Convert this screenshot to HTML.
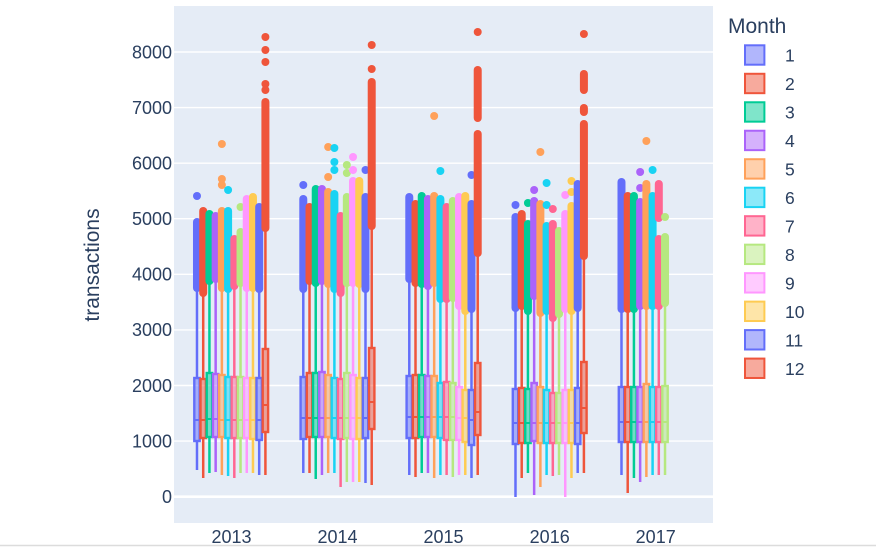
<!DOCTYPE html>
<html>
<head>
<meta charset="utf-8">
<style>
html,body{margin:0;padding:0;background:#fff;width:876px;height:550px;overflow:hidden;}
svg{display:block;}
text{font-family:"Liberation Sans",sans-serif;fill:#2a3f5f;}
</style>
</head>
<body>
<svg id="s" width="876" height="550" viewBox="0 0 876 550" xmlns="http://www.w3.org/2000/svg">
  <rect x="0" y="0" width="876" height="550" fill="#fff"/>
  <rect x="174" y="6" width="539" height="517" fill="#e5ecf6"/>
  <g stroke="#fff" stroke-width="1.4">
    <line x1="174" x2="713" y1="441.1" y2="441.1"/>
    <line x1="174" x2="713" y1="385.5" y2="385.5"/>
    <line x1="174" x2="713" y1="329.9" y2="329.9"/>
    <line x1="174" x2="713" y1="274.3" y2="274.3"/>
    <line x1="174" x2="713" y1="218.7" y2="218.7"/>
    <line x1="174" x2="713" y1="163.2" y2="163.2"/>
    <line x1="174" x2="713" y1="107.6" y2="107.6"/>
    <line x1="174" x2="713" y1="52" y2="52"/>
  </g>
  <line x1="174" x2="713" y1="496.7" y2="496.7" stroke="#fff" stroke-width="2.6"/>
  <g id="plot"></g>
  <g font-size="18" text-anchor="end">
    <text x="172" y="503">0</text>
    <text x="172" y="447.4">1000</text>
    <text x="172" y="391.8">2000</text>
    <text x="172" y="336.2">3000</text>
    <text x="172" y="280.6">4000</text>
    <text x="172" y="225">5000</text>
    <text x="172" y="169.5">6000</text>
    <text x="172" y="113.9">7000</text>
    <text x="172" y="58.3">8000</text>
  </g>
  <g font-size="18" text-anchor="middle">
    <text x="231.5" y="543">2013</text>
    <text x="337.5" y="543">2014</text>
    <text x="443.5" y="543">2015</text>
    <text x="549.7" y="543">2016</text>
    <text x="655.7" y="543">2017</text>
  </g>
  <text x="0" y="0" font-size="21" text-anchor="middle" transform="translate(99,265) rotate(-90)">transactions</text>
  <text x="728" y="33" font-size="21">Month</text>
  <g id="leg"></g>
  <line x1="0" x2="876" y1="545.5" y2="545.5" stroke="#dcdcdc" stroke-width="1.5"/>
</svg>
<script>
(function(){
var C=['#636efa','#EF553B','#00cc96','#ab63fa','#FFA15A','#19d3f3','#FF6692','#B6E880','#FF97FF','#FECB52','#636efa','#EF553B'];
var G=[231.2,337.5,443.5,549.7,655.7];
var SP=6.22;
var D=[
[
[378,441,420,470,292,218,[196]],
[379,438,420,478,297,207,[]],
[373,437,419,473,285,210,[]],
[374,437,419,472,283,212,[]],
[375,437,420,475,292,207,[144,179,185]],
[377,438,420,476,293,207,[190]],
[377,438,420,478,290,235,[]],
[377,438,420,473,287,228,[207]],
[378,438,420,473,292,195,[]],
[378,439,420,473,292,193,[]],
[378,440,420,475,293,203,[]],
[349,432,405,475,232,98,[37,50,62,84,90]]
],
[
[377,439,418,473,293,195,[185]],
[373,437,418,473,285,203,[]],
[373,437,418,479,287,185,[]],
[372,437,418,475,285,185,[]],
[375,437,418,473,288,188,[147,177]],
[378,438,418,473,293,190,[148,162,170]],
[379,439,418,487,297,212,[]],
[373,438,418,482,287,193,[165,173]],
[375,439,418,482,287,177,[157,170]],
[378,439,418,482,288,177,[]],
[378,438,418,483,293,193,[170]],
[348,429,402,485,230,78,[45,69]]
],
[
[376,438,417,475,283,193,[]],
[375,438,417,477,287,200,[]],
[375,437,417,473,288,192,[]],
[376,437,417,473,290,195,[]],
[376,437,417,478,287,192,[116]],
[383,438,417,475,303,195,[171]],
[382,440,417,475,303,203,[]],
[383,440,417,477,302,197,[]],
[387,440,418,475,310,193,[]],
[390,442,418,475,315,192,[]],
[390,445,420,478,313,200,[175]],
[363,435,412,475,257,130,[32],[[66,122]]]
],
[
[389,444,423,497,312,213,[205]],
[388,443,423,478,310,210,[]],
[389,443,423,473,315,220,[203]],
[383,441,423,495,300,197,[190]],
[387,443,423,487,317,200,[152]],
[390,443,423,475,315,222,[183,205]],
[393,443,423,476,322,220,[209]],
[393,443,423,475,318,227,[]],
[390,443,423,497,313,210,[195]],
[390,443,423,478,315,202,[181,192]],
[388,444,423,473,312,180,[]],
[362,433,408,473,260,120,[34],[[70,94],[104,116]]]
],
[
[387,442,422,475,313,178,[]],
[387,442,422,493,313,192,[]],
[387,442,422,478,313,192,[]],
[387,442,422,482,310,198,[172,188]],
[384,442,422,477,310,180,[141]],
[387,442,422,475,310,192,[170]],
[387,442,422,475,310,235,[],[[180,222]]],
[386,442,422,475,307,233,[217]]
]
];
var out='';
for(var m=0;m<12;m++){
  var c=C[m];
  for(var y=0;y<5;y++){
    var d=D[y][m]; if(!d) continue;
    var cx=G[y]+(m-5.5)*SP;
    var hw=2.7;
    var x0=(cx-hw).toFixed(2), w=2*hw;
    var X=cx.toFixed(2);
    out+='<line x1="'+X+'" x2="'+X+'" y1="'+d[0]+'" y2="'+(d[4]-3)+'" stroke="'+c+'" stroke-width="2.5"/>';
    out+='<line x1="'+X+'" x2="'+X+'" y1="'+d[1]+'" y2="'+d[3]+'" stroke="'+c+'" stroke-width="2.5"/>';
    out+='<rect x="'+x0+'" y="'+d[0]+'" width="'+w+'" height="'+(d[1]-d[0])+'" fill="'+c+'" fill-opacity="0.5" stroke="'+c+'" stroke-width="2.4"/>';
    out+='<line x1="'+x0+'" x2="'+(cx+hw).toFixed(2)+'" y1="'+d[2]+'" y2="'+d[2]+'" stroke="'+c+'" stroke-width="2"/>';
    out+='<line x1="'+X+'" x2="'+X+'" y1="'+(d[4]-4)+'" y2="'+(d[5]+4)+'" stroke="'+c+'" stroke-width="8" stroke-linecap="round"/>';
    var segs=d[7]||[];
    for(var k=0;k<segs.length;k++){
      out+='<line x1="'+X+'" x2="'+X+'" y1="'+(segs[k][1]-4)+'" y2="'+(segs[k][0]+4)+'" stroke="'+c+'" stroke-width="8" stroke-linecap="round"/>';
    }
    var sp=d[6];
    for(var k=0;k<sp.length;k++){
      out+='<circle cx="'+X+'" cy="'+sp[k]+'" r="4" fill="'+c+'"/>';
    }
  }
}
document.getElementById('plot').insertAdjacentHTML('beforeend',out);
var lg='';
for(var i=0;i<12;i++){
  var cy=55+28.48*i;
  lg+='<rect x="745" y="'+(cy-9.7).toFixed(2)+'" width="19.4" height="19.4" fill="'+C[i]+'" fill-opacity="0.5" stroke="'+C[i]+'" stroke-width="2"/>';
  lg+='<text x="785" y="'+(cy+6.5).toFixed(2)+'" font-size="17.5" style="font-family:\'Liberation Sans\',sans-serif;fill:#2a3f5f">'+(i+1)+'</text>';
}
document.getElementById('leg').insertAdjacentHTML('beforeend',lg);
})();
</script>
</body>
</html>
